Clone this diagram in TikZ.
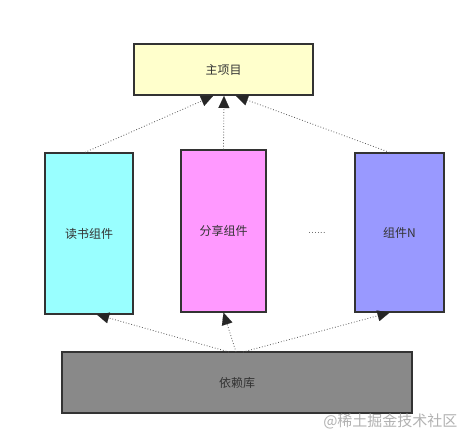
\documentclass[tikz,border=0pt]{standalone}
\usepackage{fontspec}
\newfontfamily\cjk{Noto Sans CJK SC}
\usetikzlibrary{arrows.meta}
\begin{document}
\begin{tikzpicture}[x=1pt,y=-1pt,
  box/.style={draw=black!80,line width=1.3pt,inner sep=0pt,font=\cjk\fontsize{12}{14}\selectfont,text=black!80},
  dep/.style={draw=black!65,dotted,line width=0.8pt,-{Triangle[length=12pt,width=11pt,color=black!85,fill=black!85,line width=0.1pt]}}]
\useasboundingbox (0,0) rectangle (474,443);
\fill[white] (0,0) rectangle (474,443);
\node[box,fill={rgb,255:red,255;green,255;blue,204},minimum width=179pt,minimum height=51pt] (main) at (223.5,69.5) {主项目};
\node[box,fill={rgb,255:red,153;green,255;blue,255},minimum width=88pt,minimum height=161pt] (read) at (89,233.5) {读书组件};
\node[box,fill={rgb,255:red,255;green,153;blue,255},minimum width=85pt,minimum height=162pt] (share) at (223.5,231) {分享组件};
\node[box,fill={rgb,255:red,153;green,153;blue,255},minimum width=89pt,minimum height=159pt] (compn) at (399.5,232.5) {组件N};
\node[box,fill={rgb,255:red,137;green,137;blue,137},minimum width=350pt,minimum height=61pt] (lib) at (237,382.5) {依赖库};
\node[font=\fontsize{11}{13}\selectfont,text=black!70] (dots) at (317,233) {......};
\node[font=\cjk\fontsize{15}{17}\selectfont,text=black!30,anchor=east] (wm) at (461,421) {@稀土掘金技术社区};
\coordinate (m1) at (213,96);
\coordinate (m2) at (224,96);
\coordinate (m3) at (236,96);
\coordinate (l1) at (229,352);
\coordinate (l2) at (236,352);
\coordinate (l3) at (243,352);
\draw[dep] (read.north) ++(-4,0) coordinate (r0) (r0) -- (m1);
\draw[dep] (share.north) -- (m2);
\draw[dep] (compn.north) ++(-10,0) coordinate (c0) (c0) -- (m3);
\draw[dep] (l1) -- ([xshift=8pt]read.south);
\draw[dep] (l2) -- (share.south);
\draw[dep] (l3) -- ([xshift=-10pt]compn.south);
\end{tikzpicture}
\end{document}
